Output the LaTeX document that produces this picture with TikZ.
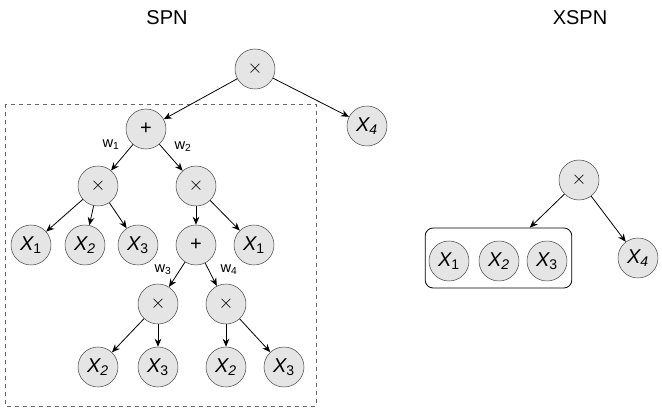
\documentclass[tikz,border=0pt]{standalone}
\usepackage{fontspec}
\setmainfont{Liberation Sans}
\usetikzlibrary{arrows.meta}
\begin{document}
\begin{tikzpicture}[x=0.75pt,y=-0.75pt,
 n/.style={circle,draw=black!70,fill=black!10,minimum size=30pt,inner sep=0pt,font=\fontsize{15}{15}\selectfont},
 e/.style={-{Stealth[length=6pt,width=5pt]},semithick},
 lab/.style={font=\fontsize{11}{11}\selectfont}]
\useasboundingbox (0,0) rectangle (662,410);
\node[font=\fontsize{15}{15}\selectfont] (t1) at (167,18) {SPN};
\node[font=\fontsize{15}{15}\selectfont] (t2) at (580,18) {XSPN};
\draw[dashed,black!60] (5,104) rectangle (316,406);
\node[n] (r) at (255,69) {$\times$};
\node[n] (x4) at (367,126) {\itshape X\textsubscript{4}};
\node[n] (p1) at (146,129) {+};
\node[n] (m1) at (98,186) {$\times$};
\node[n] (m2) at (196,186) {$\times$};
\node[n] (a1) at (31,245) {\itshape X\textsubscript{\upshape 1}};
\node[n] (a2) at (85,245) {\itshape X\textsubscript{2}};
\node[n] (a3) at (138,245) {\itshape X\textsubscript{\upshape 3}};
\node[n] (p2) at (196,245) {+};
\node[n] (b1) at (254,245) {\itshape X\textsubscript{\upshape 1}};
\node[n] (m3) at (158,304) {$\times$};
\node[n] (m4) at (226,304) {$\times$};
\node[n] (c2) at (98,367) {\itshape X\textsubscript{2}};
\node[n] (c3) at (158,367) {\itshape X\textsubscript{\upshape 3}};
\node[n] (d2) at (226,367) {\itshape X\textsubscript{2}};
\node[n] (d3) at (284,367) {\itshape X\textsubscript{\upshape 3}};
\node[lab] (w1) at (111,145) {w\textsubscript{1}};
\node[lab] (w2) at (183,147) {w\textsubscript{2}};
\node[lab] (w3) at (163,270) {w\textsubscript{3}};
\node[lab] (w4) at (229,270) {w\textsubscript{4}};
\draw[e] (r)--(p1); \draw[e] (r)--(x4);
\draw[e] (p1)--(m1); \draw[e] (p1)--(m2);
\draw[e] (m1)--(a1); \draw[e] (m1)--(a2); \draw[e] (m1)--(a3);
\draw[e] (m2)--(p2); \draw[e] (m2)--(b1);
\draw[e] (p2)--(m3); \draw[e] (p2)--(m4);
\draw[e] (m3)--(c2); \draw[e] (m3)--(c3);
\draw[e] (m4)--(d2); \draw[e] (m4)--(d3);
\node[n] (rr) at (579,180) {$\times$};
\node[draw,rounded corners=6pt,semithick,minimum width=110pt,minimum height=45pt] (bx) at (498.5,258) {};
\node[n] (e1) at (449,261) {\itshape X\textsubscript{\upshape 1}};
\node[n] (e2) at (499,261) {\itshape X\textsubscript{2}};
\node[n] (e3) at (547,261) {\itshape X\textsubscript{\upshape 3}};
\node[n] (e4) at (638,258) {\itshape X\textsubscript{4}};
\draw[e] (rr)--(bx); \draw[e] (rr)--(e4);
\end{tikzpicture}
\end{document}
